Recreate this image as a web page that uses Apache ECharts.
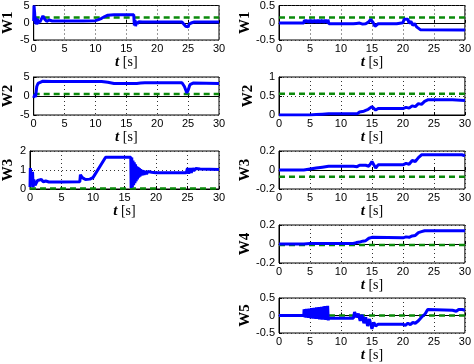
<!DOCTYPE html>
<html><head><meta charset="utf-8">
<script src="https://cdn.jsdelivr.net/npm/echarts@6/dist/echarts.min.js"></script>
<style>html,body{margin:0;padding:0;background:#fff}#c{width:474px;height:364px}</style>
</head><body><div id="c"></div>
<script>
// ---- DATA ----
const panelNames = ['W1','W2','W3','W1','W2','W3','W4','W5'];
const yRanges = [[-5,5,5],[-5,5,5],[0,2,1],[-0.5,0.5,0.5],[0,1,0.5],[-0.2,0.2,0.2],[-0.2,0.2,0.2],[-0.5,0.5,0.5]];
const refLevels = [1.55, 0.5, 0.03, 0.15, 0.56, -0.07, -0.01, 0.0];
const xTicks = [0,5,10,15,20,25,30];

const leftW1 = [[0,0.5],[0.05,5],[0.15,3],[0.25,-0.3],[0.35,1.5],[0.45,-0.5],[0.6,1.2],[0.7,-0.3],[0.85,0.8],[1.0,0.2],[1.2,0.9],[1.5,2.0],[1.8,1.0],[2.1,0.4],[2.5,0.8],[3,0.5],[5,0.5],[8,0.5],[10,0.6],[10.5,0.9],[11,1.3],[11.5,1.8],[12,2.2],[13,2.3],[16.2,2.3],[16.3,-0.8],[16.4,0.8],[16.5,-1.0],[16.6,0.3],[16.8,-0.3],[17,0.3],[17.3,-0.2],[17.6,0.2],[18,0.2],[20,0.2],[24,0.2],[24.3,0],[24.6,-1.0],[24.8,-1.5],[25,-1.2],[25.2,-0.3],[25.4,-0.8],[25.6,0],[25.8,-0.3],[26,0.2],[30,0.2]];
const leftW2 = [[0,-0.5],[0.2,0.5],[0.3,-0.3],[0.5,2.5],[0.7,3.3],[1,3.8],[1.5,3.9],[3,3.8],[5,3.8],[10,3.8],[11,3.8],[12,3.6],[13,3.3],[16,3.3],[16.7,3.3],[17,2.9],[17.3,3.4],[18,3.5],[24,3.5],[24.4,2.5],[24.8,0.8],[25,1.5],[25.3,3.0],[25.5,2.6],[25.8,3.4],[26,3.3],[30,3.3]];
const leftW3 = [[0,0.1],[0.05,1.1],[0.2,1.05],[0.3,0.2],[0.4,0.9],[0.5,0.1],[0.6,0.5],[0.8,0.2],[1.0,0.3],[1.2,0.45],[1.5,0.55],[1.8,0.5],[2.1,0.38],[2.5,0.42],[3,0.37],[5,0.37],[7.9,0.38],[8.0,0.75],[8.3,0.6],[8.8,0.5],[9.5,0.52],[10,0.6],[12,1.67],[16,1.67],[16.05,0.05],[16.15,1.65],[16.25,0.1],[16.35,1.5],[16.45,0.2],[16.55,1.4],[16.65,0.3],[16.75,1.3],[16.85,0.4],[16.95,1.2],[17.05,0.5],[17.15,1.15],[17.25,0.6],[17.35,1.1],[17.45,0.65],[17.55,1.05],[17.65,0.7],[17.75,1.0],[17.85,0.72],[17.95,0.98],[18.1,0.75],[18.3,0.95],[18.5,0.78],[18.7,0.92],[19,0.82],[19.3,0.88],[20,0.85],[24.8,0.85],[25,1.1],[25.2,0.8],[25.4,1.1],[25.6,0.85],[25.8,1.1],[26,0.95],[26.3,1.08],[26.6,0.98],[27,1.05],[30,1.03]];
const rightW1 = [[0,-0.01],[4,-0.01],[4.1,0.08],[4.2,0],[4.3,0.09],[4.4,0],[4.5,0.08],[4.6,0],[4.7,0.09],[4.8,-0.01],[4.9,0.08],[5.0,0],[5.1,0.09],[5.2,0],[5.3,0.08],[5.4,-0.01],[5.5,0.09],[5.6,0],[5.7,0.08],[5.8,0],[5.9,0.09],[6.0,-0.01],[6.1,0.08],[6.2,0],[6.3,0.09],[6.4,0],[6.5,0.08],[6.6,-0.01],[6.7,0.09],[6.8,0],[6.9,0.08],[7.0,0],[7.1,0.09],[7.2,-0.01],[7.3,0.08],[7.4,0],[7.5,0.09],[7.6,0],[7.7,0.08],[7.8,-0.01],[7.9,0.09],[8,0.05],[8.05,-0.03],[12,-0.03],[12.2,0.02],[12.5,-0.02],[13,-0.01],[13.5,-0.04],[14,-0.03],[14.5,0.03],[14.8,0.1],[15,0.12],[15.2,0.0],[15.5,-0.1],[15.7,-0.08],[16,-0.03],[19,-0.03],[20,0.0],[20.2,0.1],[20.5,0.05],[20.8,0.1],[21,-0.02],[21.3,0.04],[21.6,-0.08],[21.9,-0.02],[22.2,-0.12],[22.5,-0.1],[22.8,-0.2],[23,-0.21],[30,-0.21]];
const rightW2 = [[0,0],[5,0],[6,0.01],[7,0.02],[8,0.03],[12,0.03],[12.3,0.06],[12.6,0.03],[13,0.08],[13.3,0.05],[13.7,0.1],[14,0.07],[14.4,0.15],[14.7,0.12],[15,0.22],[15.3,0.2],[15.6,0.13],[16,0.17],[20,0.17],[20.5,0.2],[21,0.18],[21.5,0.24],[22,0.22],[22.5,0.3],[23,0.28],[23.5,0.36],[24,0.4],[28,0.4],[28.1,0.37],[30,0.38]];
const rightW3 = [[0,0],[4,0],[5,0.01],[6,0.02],[7,0.03],[8,0.04],[12,0.04],[12.3,0.05],[12.6,0.035],[13,0.05],[14,0.05],[14.5,0.04],[15,0.09],[15.3,0.07],[15.6,0.02],[16,0.055],[20,0.055],[20.5,0.07],[21,0.06],[21.5,0.1],[22,0.09],[22.5,0.13],[23,0.16],[29.5,0.16],[30,0.15]];
const rightW4 = [[0,0],[4,0],[5,0.005],[12,0.005],[12.5,0.015],[13,0.02],[13.5,0.03],[14,0.035],[14.5,0.06],[15,0.07],[20,0.065],[20.5,0.075],[21,0.07],[21.5,0.085],[22,0.09],[22.5,0.12],[23,0.13],[23.5,0.14],[30,0.14]];
const rightW5 = [[0,0],[4,0],[4.05,0.18],[4.15,-0.05],[4.25,0.18],[4.35,-0.06],[4.45,0.19],[4.55,-0.06],[4.65,0.19],[4.75,-0.07],[4.85,0.2],[4.95,-0.07],[5.05,0.2],[5.15,-0.08],[5.25,0.21],[5.35,-0.08],[5.45,0.21],[5.55,-0.09],[5.65,0.22],[5.75,-0.09],[5.85,0.22],[5.95,-0.1],[6.05,0.23],[6.15,-0.1],[6.25,0.23],[6.35,-0.1],[6.45,0.24],[6.55,-0.11],[6.65,0.24],[6.75,-0.11],[6.85,0.25],[6.95,-0.12],[7.05,0.25],[7.15,-0.12],[7.25,0.26],[7.35,-0.12],[7.45,0.27],[7.55,-0.13],[7.65,0.27],[7.75,-0.13],[7.85,0.28],[7.95,-0.14],[8,-0.08],[12,-0.08],[12.2,0.1],[12.5,-0.05],[12.8,0.05],[13.1,-0.15],[13.4,0.02],[13.7,-0.22],[14,-0.05],[14.3,-0.3],[14.6,-0.1],[15,-0.38],[15.3,-0.2],[15.6,-0.3],[16,-0.25],[20,-0.25],[20.4,-0.28],[20.8,-0.22],[21.2,-0.26],[21.6,-0.2],[22,-0.22],[22.5,-0.15],[23,-0.05],[23.3,-0.02],[23.6,0.05],[24,0.17],[28,0.15],[28.3,0.18],[28.6,0.12],[29,0.17],[29.3,0.12],[29.6,0.17],[30,0.15]];
const blueSeries = [leftW1,leftW2,leftW3,rightW1,rightW2,rightW3,rightW4,rightW5];

// ---- LAYOUT ----
const cols = [0,0,0,1,1,1,1,1];
const rows = [0,1,2,0,1,2,3,4];
const colLeft = [27, 279];
const colWidth = [192, 191];
const rowTop = [2, 77, 151, 225, 298];
const plotH = 38;
const nameGaps = [14, 14, 10, 14, 14, 14, 14, 14];

const grids=[], xAxes=[], yAxes=[], series=[];
for (let i=0;i<8;i++){
  const c=cols[i], r=rows[i];
  grids.push({left:colLeft[c], top:rowTop[r], width:colWidth[c], height:plotH,
    show:true, borderColor:'#000', borderWidth:1, backgroundColor:'#fff'});
  xAxes.push({type:'value', gridIndex:i, min:0, max:30, interval:5,
    axisLine:{show:true, lineStyle:{color:'#000',width:1}},
    axisTick:{show:true, inside:true, length:3, lineStyle:{color:'#000'}},
    axisLabel:{margin:3, fontSize:11, color:'#000', fontFamily:'Liberation Sans, Arial, sans-serif'},
    splitLine:{show:true, lineStyle:{color:'#333', type:[1,3], width:1}},
    name:'{i|t} [s]', nameLocation:'middle', nameGap:15,
    nameTextStyle:{fontSize:14, color:'#000', fontFamily:'Liberation Serif, serif',
      rich:{i:{fontStyle:'italic', fontSize:15, fontFamily:'Liberation Serif, serif', fontWeight:'bold'}}}
  });
  const yr=yRanges[i];
  yAxes.push({type:'value', gridIndex:i, min:yr[0], max:yr[1], interval:yr[2],
    axisLine:{show:true, lineStyle:{color:'#000',width:1}},
    axisTick:{show:true, inside:true, length:3, lineStyle:{color:'#000'}},
    axisLabel:{margin:4, fontSize:11, color:'#000', fontFamily:'Liberation Sans, Arial, sans-serif'},
    splitLine:{show:true, lineStyle:{color:'#333', type:[1,3], width:1}},
    name:panelNames[i], nameLocation:'middle', nameRotate:90, nameGap:nameGaps[i],
    nameTextStyle:{fontSize:15, color:'#000', fontFamily:'Liberation Serif, serif', fontWeight:'bold'}
  });
  series.push({type:'line', xAxisIndex:i, yAxisIndex:i, showSymbol:false, symbol:'none',
    data:[[0,refLevels[i]],[30,refLevels[i]]], z:3,
    lineStyle:{color:'#0a8a0a', width:2.5, type:[6,4]}, animation:false});
  series.push({type:'line', xAxisIndex:i, yAxisIndex:i, showSymbol:false, symbol:'none',
    data:blueSeries[i], z:4,
    lineStyle:{color:'#0000ff', width:3}, animation:false});
}
const chart = echarts.init(document.getElementById('c'), null, {renderer:'canvas'});
chart.setOption({animation:false, grid:grids, xAxis:xAxes, yAxis:yAxes, series:series});
</script></body></html>
